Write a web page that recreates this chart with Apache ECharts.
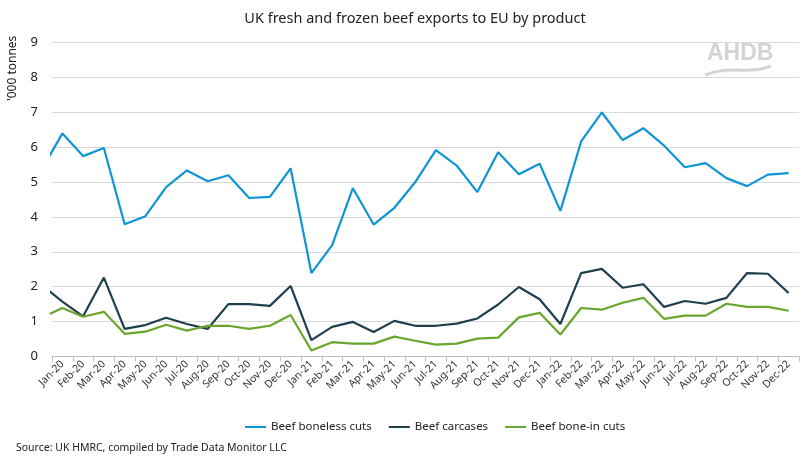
<!DOCTYPE html>
<html>
<head>
<meta charset="utf-8">
<script src="https://cdn.jsdelivr.net/npm/echarts@6/dist/echarts.min.js"></script>
<style>html,body{margin:0;padding:0;background:#fff}#c{width:806px;height:463px}</style>
</head>
<body>
<div id="c"></div>
<script>
// Categories (months shown on the axis)
const months = ['Jan-20','Feb-20','Mar-20','Apr-20','May-20','Jun-20','Jul-20','Aug-20','Sep-20','Oct-20','Nov-20','Dec-20',
  'Jan-21','Feb-21','Mar-21','Apr-21','May-21','Jun-21','Jul-21','Aug-21','Sep-21','Oct-21','Nov-21','Dec-21',
  'Jan-22','Feb-22','Mar-22','Apr-22','May-22','Jun-22','Jul-22','Aug-22','Sep-22','Oct-22','Nov-22','Dec-22'];
// Previous month (Dec-19) value, only visible as the clipped line entering from the left edge
const prevBoneless = 5.35, prevCarcases = 2.05, prevBoneIn = 1.11;
// '000 tonnes
const boneless = [6.39,5.74,5.97,3.79,4.02,4.85,5.33,5.02,5.19,4.54,4.57,5.39,
  2.39,3.19,4.82,3.78,4.26,4.99,5.91,5.47,4.71,5.85,5.22,5.52,
  4.17,6.16,6.99,6.20,6.54,6.04,5.42,5.54,5.11,4.88,5.21,5.25];
const carcases = [1.57,1.15,2.26,0.79,0.90,1.11,0.93,0.79,1.50,1.50,1.45,2.02,
  0.47,0.85,0.99,0.70,1.02,0.88,0.88,0.94,1.09,1.49,1.99,1.64,
  0.93,2.39,2.51,1.97,2.07,1.42,1.59,1.51,1.68,2.39,2.37,1.82];
const boneIn = [1.39,1.14,1.28,0.65,0.71,0.91,0.74,0.88,0.88,0.79,0.88,1.19,
  0.17,0.41,0.37,0.37,0.57,0.45,0.34,0.37,0.51,0.54,1.12,1.25,
  0.63,1.39,1.34,1.54,1.68,1.08,1.17,1.17,1.51,1.42,1.42,1.31];
const yTicks = [0,1,2,3,4,5,6,7,8,9];

const FONT = 'Noto Sans';
function pts(prev, arr){ return [[-1, prev]].concat(arr.map((v,i)=>[i, v])); }

const chart = echarts.init(document.getElementById('c'), null, {renderer:'canvas'});
chart.setOption({
  animation:false,
  backgroundColor:'#fff',
  textStyle:{fontFamily:FONT},
  title:{text:'UK fresh and frozen beef exports to EU by product', left:410, textAlign:'center', top:6,
    textStyle:{fontFamily:FONT, fontSize:14.5, fontWeight:'normal', color:'#222'}},
  grid:{left:52, right:7, top:42.3, bottom:106.5, containLabel:false},
  legend:{left:245, top:421, padding:0, icon:'rect', itemWidth:21, itemHeight:2, itemGap:17,
    textStyle:{fontFamily:FONT, fontSize:11.5, color:'#222'},
    data:['Beef boneless cuts','Beef carcases','Beef bone-in cuts']},
  xAxis:[{
    type:'category', data:months, boundaryGap:true,
    axisLine:{lineStyle:{color:'#bfbfbf', width:1}},
    axisTick:{show:true, length:5, lineStyle:{color:'#bfbfbf'}},
    axisLabel:{rotate:45, interval:0, fontSize:10.5, color:'#333', fontFamily:FONT, margin:6},
    splitLine:{show:false}
  },{
    type:'value', min:-0.5, max:months.length-0.5, show:false
  }],
  yAxis:{type:'value', min:yTicks[0], max:yTicks[yTicks.length-1], interval:1,
    axisLine:{show:false}, axisTick:{show:false},
    axisLabel:{fontSize:13, color:'#222', fontFamily:FONT, margin:14},
    splitLine:{lineStyle:{color:'#d9d9d9', width:1}}},
  graphic:[
    {type:'text', x:7, y:101, rotation:Math.PI/2, style:{text:"'000 tonnes", fontFamily:FONT, fontSize:12, fill:'#222'}},
    {type:'text', left:16, top:443, style:{text:'Source: UK HMRC, compiled by Trade Data Monitor LLC', fontFamily:FONT, fontSize:10.5, fill:'#222'}},
    {type:'text', left:707, top:42, style:{text:'AHDB', fontFamily:'Liberation Sans', fontWeight:'bold', fontSize:23, fill:'#d4d4d4'}},
    {type:'bezierCurve', shape:{x1:705, y1:75, x2:771, y2:66, cpx1:730, cpy1:65, cpx2:750, cpy2:75},
      style:{stroke:'#d4d4d4', lineWidth:3, fill:null}}
  ],
  series:[
    {name:'Beef boneless cuts', type:'line', xAxisIndex:1, data:pts(prevBoneless, boneless), showSymbol:false,
      lineStyle:{color:'#0f94d4', width:2.2}, itemStyle:{color:'#0f94d4'}, clip:true},
    {name:'Beef carcases', type:'line', xAxisIndex:1, data:pts(prevCarcases, carcases), showSymbol:false,
      lineStyle:{color:'#1f3f4e', width:2.2}, itemStyle:{color:'#1f3f4e'}, clip:true},
    {name:'Beef bone-in cuts', type:'line', xAxisIndex:1, data:pts(prevBoneIn, boneIn), showSymbol:false,
      lineStyle:{color:'#6aa52e', width:2.2}, itemStyle:{color:'#6aa52e'}, clip:true}
  ]
});
</script>
</body>
</html>
